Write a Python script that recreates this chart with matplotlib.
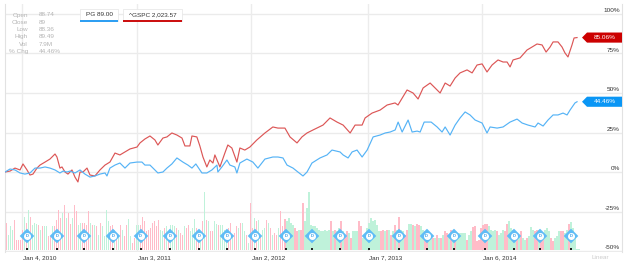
import numpy as np
import matplotlib
matplotlib.use("Agg")
import matplotlib.pyplot as plt
import matplotlib.dates as mdates
from matplotlib.patches import Polygon, Rectangle
from datetime import datetime

plt.rcParams['font.family'] = ['Liberation Sans', 'DejaVu Sans']

# ---------------- data ----------------
gspc_t = [2009.857, 2009.901, 2009.944, 2009.988, 2010.014, 2010.049, 2010.075, 2010.101, 2010.136, 2010.162,
          2010.206, 2010.249, 2010.293, 2010.310, 2010.336, 2010.354, 2010.380, 2010.406, 2010.441, 2010.467,
          2010.493, 2010.511, 2010.537, 2010.572, 2010.598, 2010.641, 2010.685, 2010.729, 2010.772, 2010.816,
          2010.859, 2010.903, 2010.947, 2011.008, 2011.034, 2011.077, 2011.121, 2011.164, 2011.190, 2011.234,
          2011.269, 2011.312, 2011.356, 2011.400, 2011.426, 2011.469, 2011.487, 2011.530, 2011.556, 2011.583,
          2011.617, 2011.643, 2011.670, 2011.687, 2011.731, 2011.774, 2011.800, 2011.835, 2011.879, 2011.905,
          2011.948, 2011.992, 2012.053, 2012.123, 2012.192, 2012.236, 2012.297, 2012.341, 2012.402, 2012.445,
          2012.489, 2012.541, 2012.628, 2012.689, 2012.750, 2012.803, 2012.864, 2012.907, 2012.968, 2012.994,
          2013.055, 2013.125, 2013.186, 2013.255, 2013.281, 2013.360, 2013.412, 2013.456, 2013.500, 2013.561,
          2013.604, 2013.648, 2013.692, 2013.735, 2013.779, 2013.822, 2013.883, 2013.927, 2013.970, 2014.014,
          2014.057, 2014.101, 2014.153, 2014.197, 2014.232, 2014.258, 2014.284, 2014.345, 2014.406, 2014.450,
          2014.493, 2014.537, 2014.572, 2014.607, 2014.633, 2014.676, 2014.711, 2014.737, 2014.763, 2014.798,
          2014.816, 2014.842]
gspc_pct = [0, 0.6, 2.5, 1.3, 5.1, 1.3, -1.9, -1.3, 2.5, 4.4,
            6.3, 8.2, 11.4, 9.5, 2.5, 3.2, 0, -1.3, 1.3, -3.2,
            -6.3, 0, 0, 2.5, -1.9, -2.5, 1.3, 4.4, 6.3, 12.0,
            10.8, 12.7, 14.6, 15.8, 18.4, 20.9, 22.8, 20.3, 17.1, 21.5,
            22.2, 24.7, 23.4, 21.5, 16.5, 16.5, 22.8, 22.2, 16.5, 9.5,
            3.2, 7.6, 5.7, 10.8, 3.2, 12.0, 17.1, 15.2, 6.3, 15.2,
            13.9, 15.8, 20.3, 24.7, 28.5, 27.8, 27.8, 22.2, 18.4, 22.2,
            24.7, 26.6, 29.7, 34.2, 31.6, 29.7, 24.7, 29.7, 29.7, 34.2,
            37.3, 39.2, 42.4, 43.7, 42.4, 51.9, 50.0, 46.2, 53.2, 56.3,
            53.2, 50.0, 56.3, 54.4, 59.5, 62.7, 64.6, 62.7, 67.7, 68.4,
            63.3, 67.7, 70.9, 69.6, 69.6, 66.5, 70.9, 72.2, 77.2, 79.1,
            81.0, 80.4, 75.9, 79.1, 82.3, 82.3, 79.1, 75.3, 72.8, 80.4,
            84.8, 85.06]

pg_t = [2009.857, 2009.901, 2009.944, 2009.988, 2010.031, 2010.075, 2010.119, 2010.162, 2010.206, 2010.249,
        2010.293, 2010.336, 2010.363, 2010.397, 2010.424, 2010.467, 2010.511, 2010.554, 2010.598, 2010.641,
        2010.685, 2010.729, 2010.746, 2010.772, 2010.816, 2010.859, 2010.903, 2010.947, 2011.008, 2011.051,
        2011.077, 2011.121, 2011.164, 2011.190, 2011.234, 2011.269, 2011.312, 2011.356, 2011.408, 2011.452,
        2011.487, 2011.521, 2011.574, 2011.617, 2011.661, 2011.705, 2011.713, 2011.748, 2011.792, 2011.818,
        2011.861, 2011.879, 2011.905, 2011.966, 2012.018, 2012.062, 2012.123, 2012.192, 2012.236, 2012.280,
        2012.315, 2012.367, 2012.410, 2012.454, 2012.489, 2012.532, 2012.602, 2012.663, 2012.706, 2012.776,
        2012.803, 2012.846, 2012.881, 2012.924, 2012.968, 2013.012, 2013.064, 2013.125, 2013.169, 2013.212,
        2013.256, 2013.282, 2013.317, 2013.369, 2013.404, 2013.448, 2013.474, 2013.509, 2013.570, 2013.622,
        2013.665, 2013.692, 2013.735, 2013.779, 2013.822, 2013.866, 2013.909, 2013.953, 2014.014, 2014.057,
        2014.084, 2014.145, 2014.197, 2014.258, 2014.319, 2014.363, 2014.415, 2014.476, 2014.502, 2014.546,
        2014.589, 2014.633, 2014.676, 2014.720, 2014.755, 2014.781, 2014.824, 2014.842]
pg_pct = [0, 1.9, 1.3, -0.6, -1.3, -0.6, 2.5, 2.5, 3.2, 2.5,
          1.3, -0.6, 0.6, 0, 0.6, -0.6, 1.3, -1.3, -3.2, -2.5,
          -1.3, -0.6, -2.5, 2.5, 4.4, 5.7, 2.5, 5.7, 6.3, 6.3,
          4.4, 4.4, 1.3, -0.6, 0, 2.5, 5.1, 8.9, 6.3, 4.4,
          2.5, 5.1, -0.6, -0.6, 1.3, 4.4, 0, 3.2, 7.6, 4.4,
          3.2, -0.6, 5.7, 8.2, 6.3, 2.5, 8.2, 9.5, 9.5, 8.9,
          4.4, 2.5, 0, -2.5, 0, 5.7, 8.9, 10.8, 13.9, 12.7,
          10.8, 8.9, 12.7, 13.9, 9.5, 13.9, 22.2, 23.4, 24.7, 25.3,
          26.6, 31.6, 25.3, 32.9, 25.3, 25.9, 25.3, 31.6, 31.6, 28.5,
          25.3, 28.5, 23.4, 29.7, 34.2, 38.0, 36.1, 32.9, 31.0, 24.7,
          28.5, 27.8, 28.5, 31.6, 33.5, 31.0, 29.7, 28.5, 31.0, 29.1,
          32.9, 36.1, 36.1, 37.3, 36.1, 39.2, 43.7, 44.46]

# weekly PG volume (millions), and up (g) / down (r) weeks
pg_volume_m = [30,27,15,24,20,30,10,10,10,20, 33,27,40,33,25,27,26,25,20,24, 24,24,14,14,24,24,30,40,32,37,
               45,32,37,26,32,45,39,25,27,27, 27,25,39,27,25,25,24,15,27,24, 14,40,29,24,25,20,17,15,25,20,
               14,25,31,14,7,12,25,25,25,33, 29,19,20,22,27,29,24,30,20,19, 22,24,19,25,25,24,22,20,17,15,
               24,22,25,19,22,31,22,19,
               19,29,58,30,29,19,19,29,26,25, 25,25,20,19,22,27,15,17,24,22, 27,27,19,15,7,47,22,32,29,30,
               15,20,22,30,27,22,15,17,15,22, 39,24,31,29,32,27,25,22,19,20, 20,47,29,42,58,25,24,24,22,20,
               19,19,20,19,20,29,19,20,19,22, 29,19,15,19,17,12,19,19,19,29, 24,12,15,22,27,32,29,30,25,19,
               19,20,19,20,20,15,19,
               25,20,33,20,19,15,20,26,26,25, 24,26,25,24,20,19,19,12,13,12, 12,15,12,12,15,19,17,15,20,19,
               15,17,17,17,17,17,10,15,19,23, 24,9,10,22,25,26,26,24,20,19, 20,19,15,17,20,19,26,29,22,20,
               17,15,15,19,12,10,12,14,23,20, 19,20,20,19,15,20,22,19,12,9, 12,14,19,19,19,17,20,26,28,22,
               15,1,1]
pg_volume_dir = ("grgggrrrrr" "grgrgggrgr" "ggrrgrrrrg" "rgrrgrrggr" "rrrgrgrgrg" "gggrrgrgrg" "rrggrrggrr"
                 "rrrrrrrrgg" "rgrgggrgrr" "grrgggrr"
                 "grgrgrrggr" "ggggrrgrrg" "rggrgrrgrg" "rggrgrgrrg" "rrrggggrrg" "rrgggggggg" "gggggrgrgg"
                 "rgrrgrgggr" "rggggggggg" "rrgrgrg"
                 "rgrggrrggr" "grrggrrggr" "grgrgrrgrg" "rgggggrggr" "rrrrrrrggg" "grgggrrggg" "grgrggrggg"
                 "rrgrrgggrr" "gggrrggrgg" "ggg")
vol_first, vol_last = 2009.853, 2014.859

dividend_t = [2010.05, 2010.31, 2010.55, 2010.80, 2011.04, 2011.30, 2011.55, 2011.79, 2012.04, 2012.31,
              2012.53, 2012.78, 2013.03, 2013.29, 2013.53, 2013.77, 2014.04, 2014.29, 2014.52, 2014.79]

tick_dates = [datetime(2010, 1, 4), datetime(2011, 1, 3), datetime(2012, 1, 2),
              datetime(2013, 1, 7), datetime(2014, 1, 6)]
tick_labels = ["Jan 4, 2010", "Jan 3, 2011", "Jan 2, 2012", "Jan 7, 2013", "Jan 6, 2014"]
y_levels = [100, 75, 50, 25, 0, -25, -50]

info_labels = ["Open", "Close", "Low", "High", "Vol", "% Chg"]
info_values = ["88.74", "89", "88.36", "89.49", "7.9M", "44.46%"]
legend_items = ["PG 89.00", "^GSPC 2,023.57"]
last_labels = ["85.06%", "44.46%"]

# ---------------- helpers ----------------
W, H = 628, 264
def dec2date(t):
    y = int(np.floor(t))
    s, e = datetime(y, 1, 1), datetime(y + 1, 1, 1)
    return s + (e - s) * (t - y)
def dn(ts):
    return mdates.date2num([dec2date(t) for t in ts])
def fx(x): return x / W
def fy(y): return 1 - y / H

PG_C = '#55b3f6'
SP_C = '#dc5656'
FS = 4.6

fig = plt.figure(figsize=(W / 100, H / 100), dpi=100)
fig.patch.set_facecolor('white')

rect = [fx(5), fy(252), (622 - 5) / W, (252 - 4) / H]
xlim = (mdates.date2num(dec2date(2009.857)), mdates.date2num(dec2date(2015.234)))
ylim = (-50.6, 106.3)

axg = fig.add_axes(rect, zorder=0)
axv = fig.add_axes([fx(5), fy(250), (622 - 5) / W, 60 / H], zorder=1)
ax = fig.add_axes(rect, zorder=2)

for a in (axg, ax):
    a.set_xlim(*xlim)
    a.set_ylim(*ylim)
axv.set_xlim(*xlim)
axv.set_ylim(0, 60)
for a in (axg, axv, ax):
    a.set_xticks([]); a.set_yticks([])
    for s in a.spines.values():
        s.set_visible(False)
axv.patch.set_alpha(0)
ax.patch.set_alpha(0)
axg.spines['left'].set_visible(True)
axg.spines['right'].set_visible(True)
axg.spines['left'].set_color('#e2e2e2')
axg.spines['right'].set_color('#e2e2e2')

# grid
for v in y_levels:
    axg.axhline(v, color='#ebebeb', lw=1.0)
for d in tick_dates:
    axg.axvline(mdates.date2num(d), color='#ececec', lw=1.0)

# volume
n = min(len(pg_volume_m), len(pg_volume_dir))
vx = mdates.date2num([dec2date(t) for t in np.linspace(vol_first, vol_last, n)])
step = (vx[-1] - vx[0]) / (n - 1)
vcol = ['#bff2da' if c == 'g' else '#ffbcc8' for c in pg_volume_dir[:n]]
axv.bar(vx, pg_volume_m[:n], width=step * 0.8, color=vcol, linewidth=0)

# lines
ax.plot(dn(gspc_t), gspc_pct, color=SP_C, lw=0.85, solid_joinstyle='round')
ax.plot(dn(pg_t), pg_pct, color=PG_C, lw=0.85, solid_joinstyle='round')

# dividends
dd = dn(dividend_t)
ax.plot(dd, [-40.5] * len(dd), 'D', ms=7.0, mfc='#5fbcf6', mec='#5fbcf6', mew=0.3)
ax.plot(dd, [-40.5] * len(dd), 'o', ms=4.0, mfc='white', mec='white')
for d in dd:
    ax.text(d, -40.5, 'D', fontsize=3.0, color='#3a9fe6', ha='center', va='center', fontweight='bold')
ax.plot(dd, [-48.9] * len(dd), 's', ms=1.5, color='#222222', mew=0)

# right y labels
yt = ax.get_yaxis_transform()
for v in y_levels:
    ax.text(0.9968, v + 0.6, f"{v}%", transform=yt, ha='right', va='bottom',
            fontsize=FS, color='#333333')

# last-value flags
def flag(val, color, label):
    hh = 3.2
    poly = Polygon([(0.9352, val), (0.9433, val + hh), (1.0, val + hh), (1.0, val - hh), (0.9433, val - hh)],
                   closed=True, transform=yt, facecolor=color, edgecolor='none', zorder=5, clip_on=False)
    ax.add_patch(poly)
    ax.text(0.972, val, label, transform=yt, ha='center', va='center', fontsize=FS,
            color='white', zorder=6)
flag(gspc_pct[-1], '#cc0000', last_labels[0])
flag(pg_pct[-1], '#0a96f5', last_labels[1])

# x labels
xt = ax.get_xaxis_transform()
for d, lab in zip(tick_dates, tick_labels):
    ax.text(mdates.date2num(d) + 3, -0.022, lab, transform=xt, ha='left', va='center',
            fontsize=FS, color='#333333', clip_on=False)
ax.text((600 - 5) / 617, -0.022, "Linear", transform=ax.transAxes, ha='center', va='center',
        fontsize=FS, color='#cccccc')

# info panel
for i, (lab, val) in enumerate(zip(info_labels, info_values)):
    yy = 15 + i * 7.3
    fig.text(fx(28), fy(yy), lab, ha='right', va='center', fontsize=FS, color='#b5b5b5')
    fig.text(fx(39), fy(yy), val, ha='left', va='center', fontsize=FS, color='#b5b5b5')

# legend boxes
boxes = [(80, 118, '#2f9ff2'), (123, 182, '#cc1111')]
for (x0, x1, c), lab in zip(boxes, legend_items):
    fig.patches.append(Rectangle((fx(x0), fy(21)), fx(x1 - x0), (21 - 9) / H, transform=fig.transFigure,
                                 facecolor='white', edgecolor='#e4e4e4', lw=0.5, zorder=5))
    fig.patches.append(Rectangle((fx(x0), fy(22)), fx(x1 - x0), 1.6 / H, transform=fig.transFigure,
                                 facecolor=c, edgecolor='none', zorder=6))
    fig.text(fx((x0 + x1) / 2), fy(15), lab, ha='center', va='center', fontsize=FS,
             color='#333333', zorder=7)

fig.savefig('out.png', dpi=100, facecolor='white')
